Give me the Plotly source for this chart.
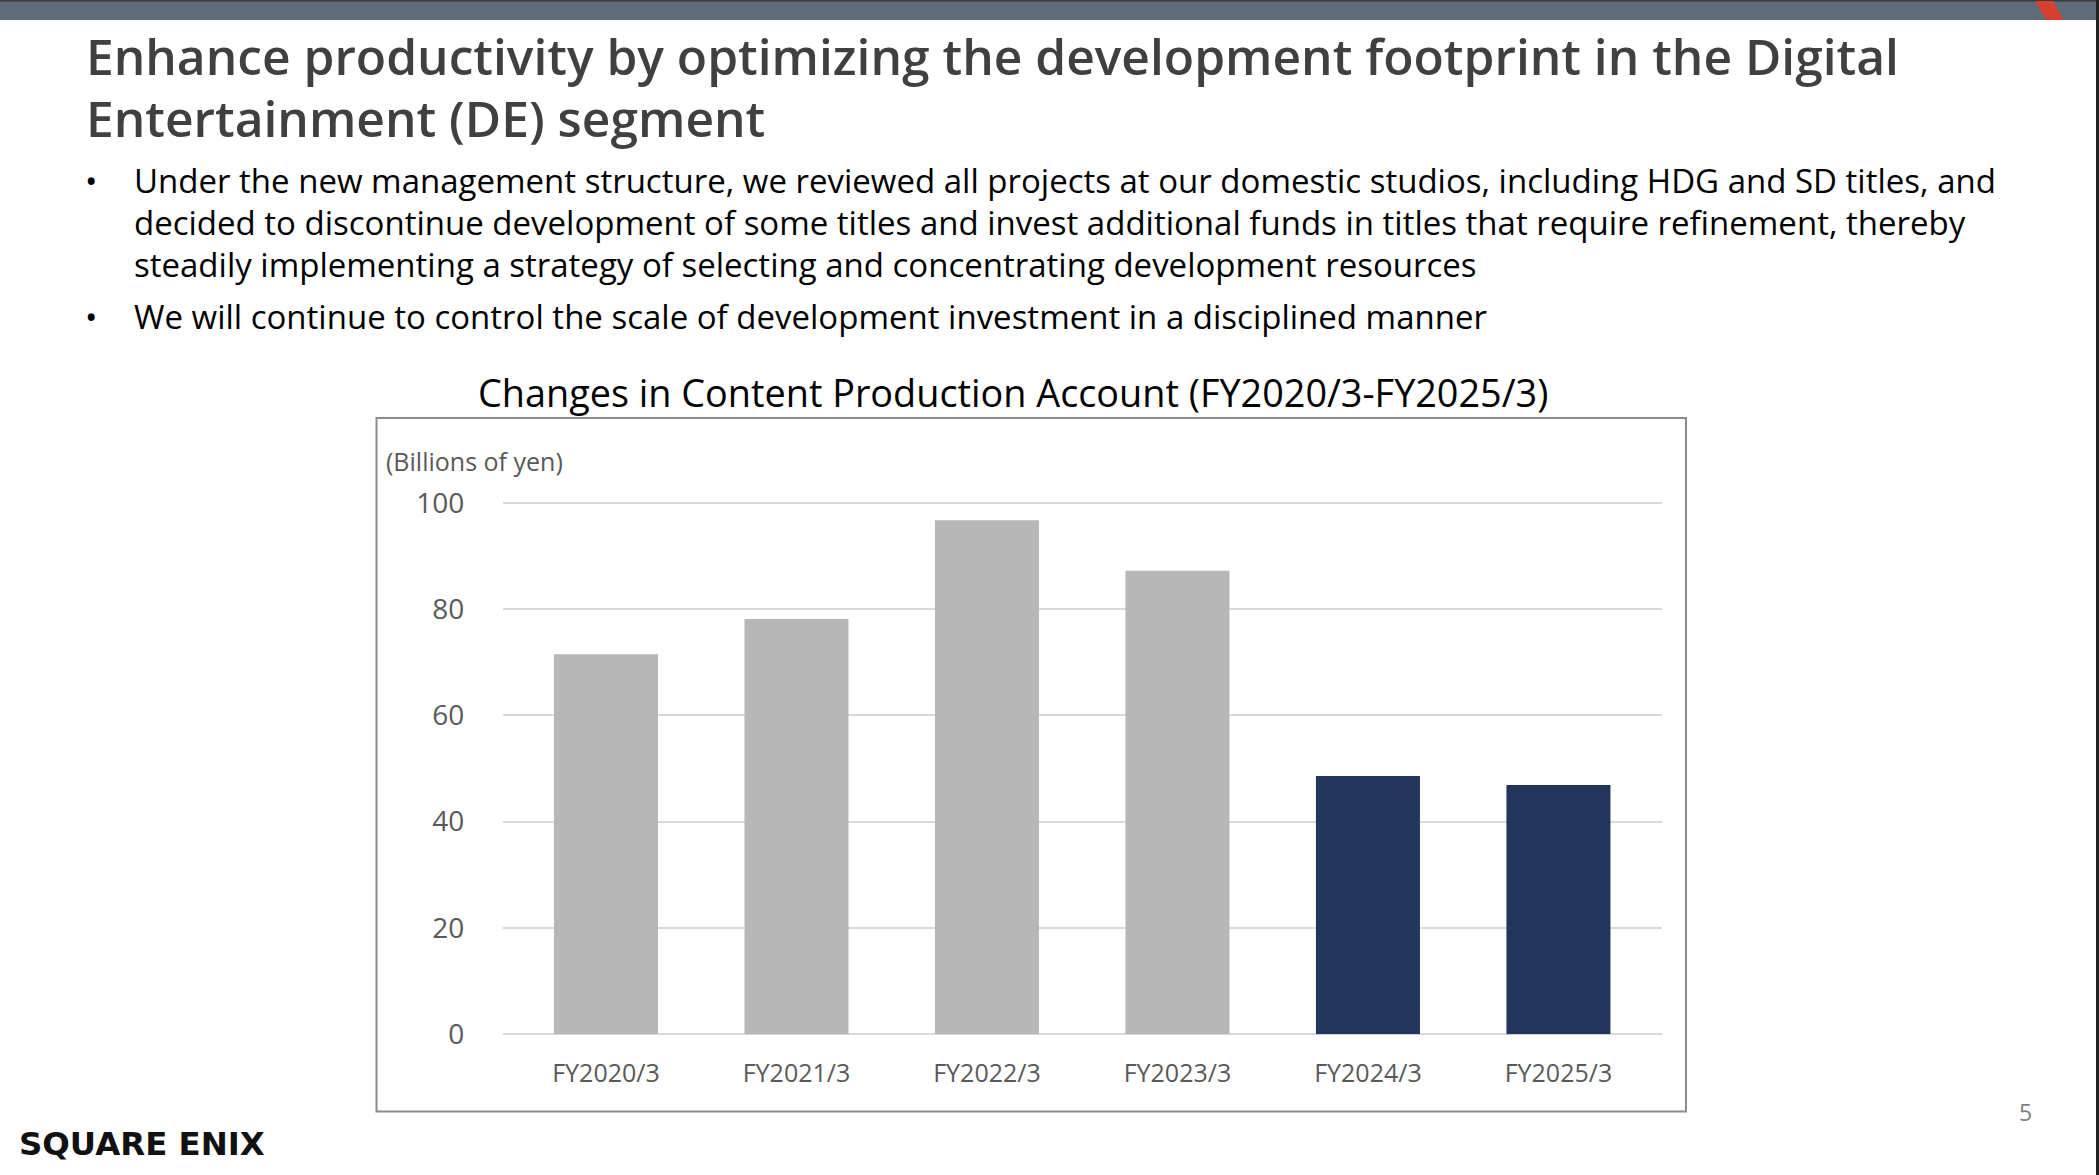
import plotly.graph_objects as go

# ---------------- data ----------------
categories = ["FY2020/3", "FY2021/3", "FY2022/3", "FY2023/3", "FY2024/3", "FY2025/3"]
values = [71.5, 78.1, 96.7, 87.2, 48.6, 46.9]
highlighted = ["FY2024/3", "FY2025/3"]
y_ticks = [0, 20, 40, 60, 80, 100]

title_lines = [
    "Enhance productivity by optimizing the development footprint in the Digital",
    "Entertainment (DE) segment",
]
bullet_items = [
    [
        "Under the new management structure, we reviewed all projects at our domestic studios, including HDG and SD titles, and",
        "decided to discontinue development of some titles and invest additional funds in titles that require refinement, thereby",
        "steadily implementing a strategy of selecting and concentrating development resources",
    ],
    ["We will continue to control the scale of development investment in a disciplined manner"],
]
chart_title = "Changes in Content Production Account (FY2020/3-FY2025/3)"
unit_label = "(Billions of yen)"
page_number = "5"
logo_text = "SQUARE ENIX"

# ---------------- style ----------------
W, H = 2099, 1175
GRAY = "#b7b7b7"
NAVY = "#22365c"
FONT = "Open Sans"
AXIS_TXT = "#595959"


def fx(px):
    return px / W


def fy(py):
    return 1 - py / H


bar_colors = [NAVY if c in highlighted else GRAY for c in categories]

fig = go.Figure()
fig.add_trace(
    go.Bar(
        x=categories,
        y=values,
        marker=dict(color=bar_colors, line=dict(width=0)),
        width=0.546,
        hoverinfo="x+y",
    )
)

Y_MAX = 101.0
PX_PER_UNIT = 5.316
PLOT_L, PLOT_R, PLOT_B = 503.3, 1661.7, 1034.3
PLOT_T = PLOT_B - Y_MAX * PX_PER_UNIT

fig.update_layout(
    width=W,
    height=H,
    margin=dict(l=0, r=0, t=0, b=0),
    paper_bgcolor="white",
    plot_bgcolor="white",
    showlegend=False,
    xaxis=dict(
        domain=[fx(PLOT_L), fx(PLOT_R)],
        type="category",
        range=[-0.539, 5.542],
        showgrid=False,
        showline=False,
        zeroline=False,
        ticks="",
        ticklabelstandoff=22,
        tickfont=dict(family=FONT, size=25, color=AXIS_TXT),
        automargin=False,
    ),
    yaxis=dict(
        domain=[fy(PLOT_B), fy(PLOT_T)],
        range=[0, Y_MAX],
        tickvals=y_ticks,
        ticktext=[str(v) for v in y_ticks],
        showgrid=True,
        gridcolor="#d9d9d9",
        gridwidth=1.5,
        zeroline=True,
        zerolinecolor="#d9d9d9",
        zerolinewidth=1.5,
        showline=False,
        ticks="",
        ticklabelstandoff=38,
        tickfont=dict(family=FONT, size=28, color=AXIS_TXT),
        automargin=False,
    ),
)

shapes = []
# header band
shapes.append(dict(type="rect", xref="paper", yref="paper", x0=0, x1=1, y0=fy(20), y1=fy(0),
                   fillcolor="#5f6b7a", line=dict(width=0), layer="above"))
shapes.append(dict(type="rect", xref="paper", yref="paper", x0=0, x1=1, y0=fy(1.5), y1=fy(0),
                   fillcolor="#3a3a3a", line=dict(width=0), layer="above"))
# red slanted accent
shapes.append(dict(type="path", xref="paper", yref="paper",
                   path=f"M {fx(2035)} {fy(1)} L {fx(2053)} {fy(1)} L {fx(2063.5)} {fy(20)} L {fx(2046.5)} {fy(20)} Z",
                   fillcolor="#d6402f", line=dict(width=0), layer="above"))
# right dark edge
shapes.append(dict(type="rect", xref="paper", yref="paper", x0=fx(2096), x1=1, y0=0, y1=1,
                   fillcolor="#222222", line=dict(width=0), layer="above"))
# chart frame
shapes.append(dict(type="rect", xref="paper", yref="paper", x0=fx(376.5), x1=fx(1686), y0=fy(1111.5), y1=fy(418),
                   fillcolor="rgba(0,0,0,0)", line=dict(color="#8c8c8c", width=2), layer="below"))
fig.update_layout(shapes=shapes)

ann = []
# slide title
title_y = [55.6, 117.6]
for line, yy in zip(title_lines, title_y):
    ann.append(dict(text=line, x=fx(83.5), y=fy(yy), xref="paper", yref="paper", xanchor="left", yanchor="middle",
                    showarrow=False, font=dict(family=FONT, size=49.7, color="#404040", weight=600)))

# bullets
bullet_line_y = [[181, 222.5, 264], [316]]
for lines, ys in zip(bullet_items, bullet_line_y):
    ann.append(dict(text="•", x=fx(91), y=fy(ys[0]), xref="paper", yref="paper", xanchor="center", yanchor="middle",
                    showarrow=False, font=dict(family=FONT, size=33, color="#000000")))
    for line, yy in zip(lines, ys):
        ann.append(dict(text=line, x=fx(131.5), y=fy(yy), xref="paper", yref="paper", xanchor="left", yanchor="middle",
                        showarrow=False, font=dict(family=FONT, size=33, color="#000000")))

# chart title
ann.append(dict(text=chart_title, x=fx(1013), y=fy(392), xref="paper", yref="paper", xanchor="center",
                yanchor="middle", showarrow=False, font=dict(family=FONT, size=37.8, color="#000000")))
# unit label
ann.append(dict(text=unit_label, x=fx(384), y=fy(461.3), xref="paper", yref="paper", xanchor="left",
                yanchor="middle", showarrow=False, font=dict(family=FONT, size=25, color=AXIS_TXT)))
# page number
ann.append(dict(text=page_number, x=fx(2025), y=fy(1112), xref="paper", yref="paper", xanchor="center",
                yanchor="middle", showarrow=False, font=dict(family=FONT, size=23, color="#808080")))
# logo
ann.append(dict(text=logo_text, x=fx(17), y=fy(1144), xref="paper", yref="paper", xanchor="left",
                yanchor="middle", showarrow=False, font=dict(family="DejaVu Sans", size=32.4, color="#111111", weight=700)))
fig.update_layout(annotations=ann)

fig.write_html("out.html")
